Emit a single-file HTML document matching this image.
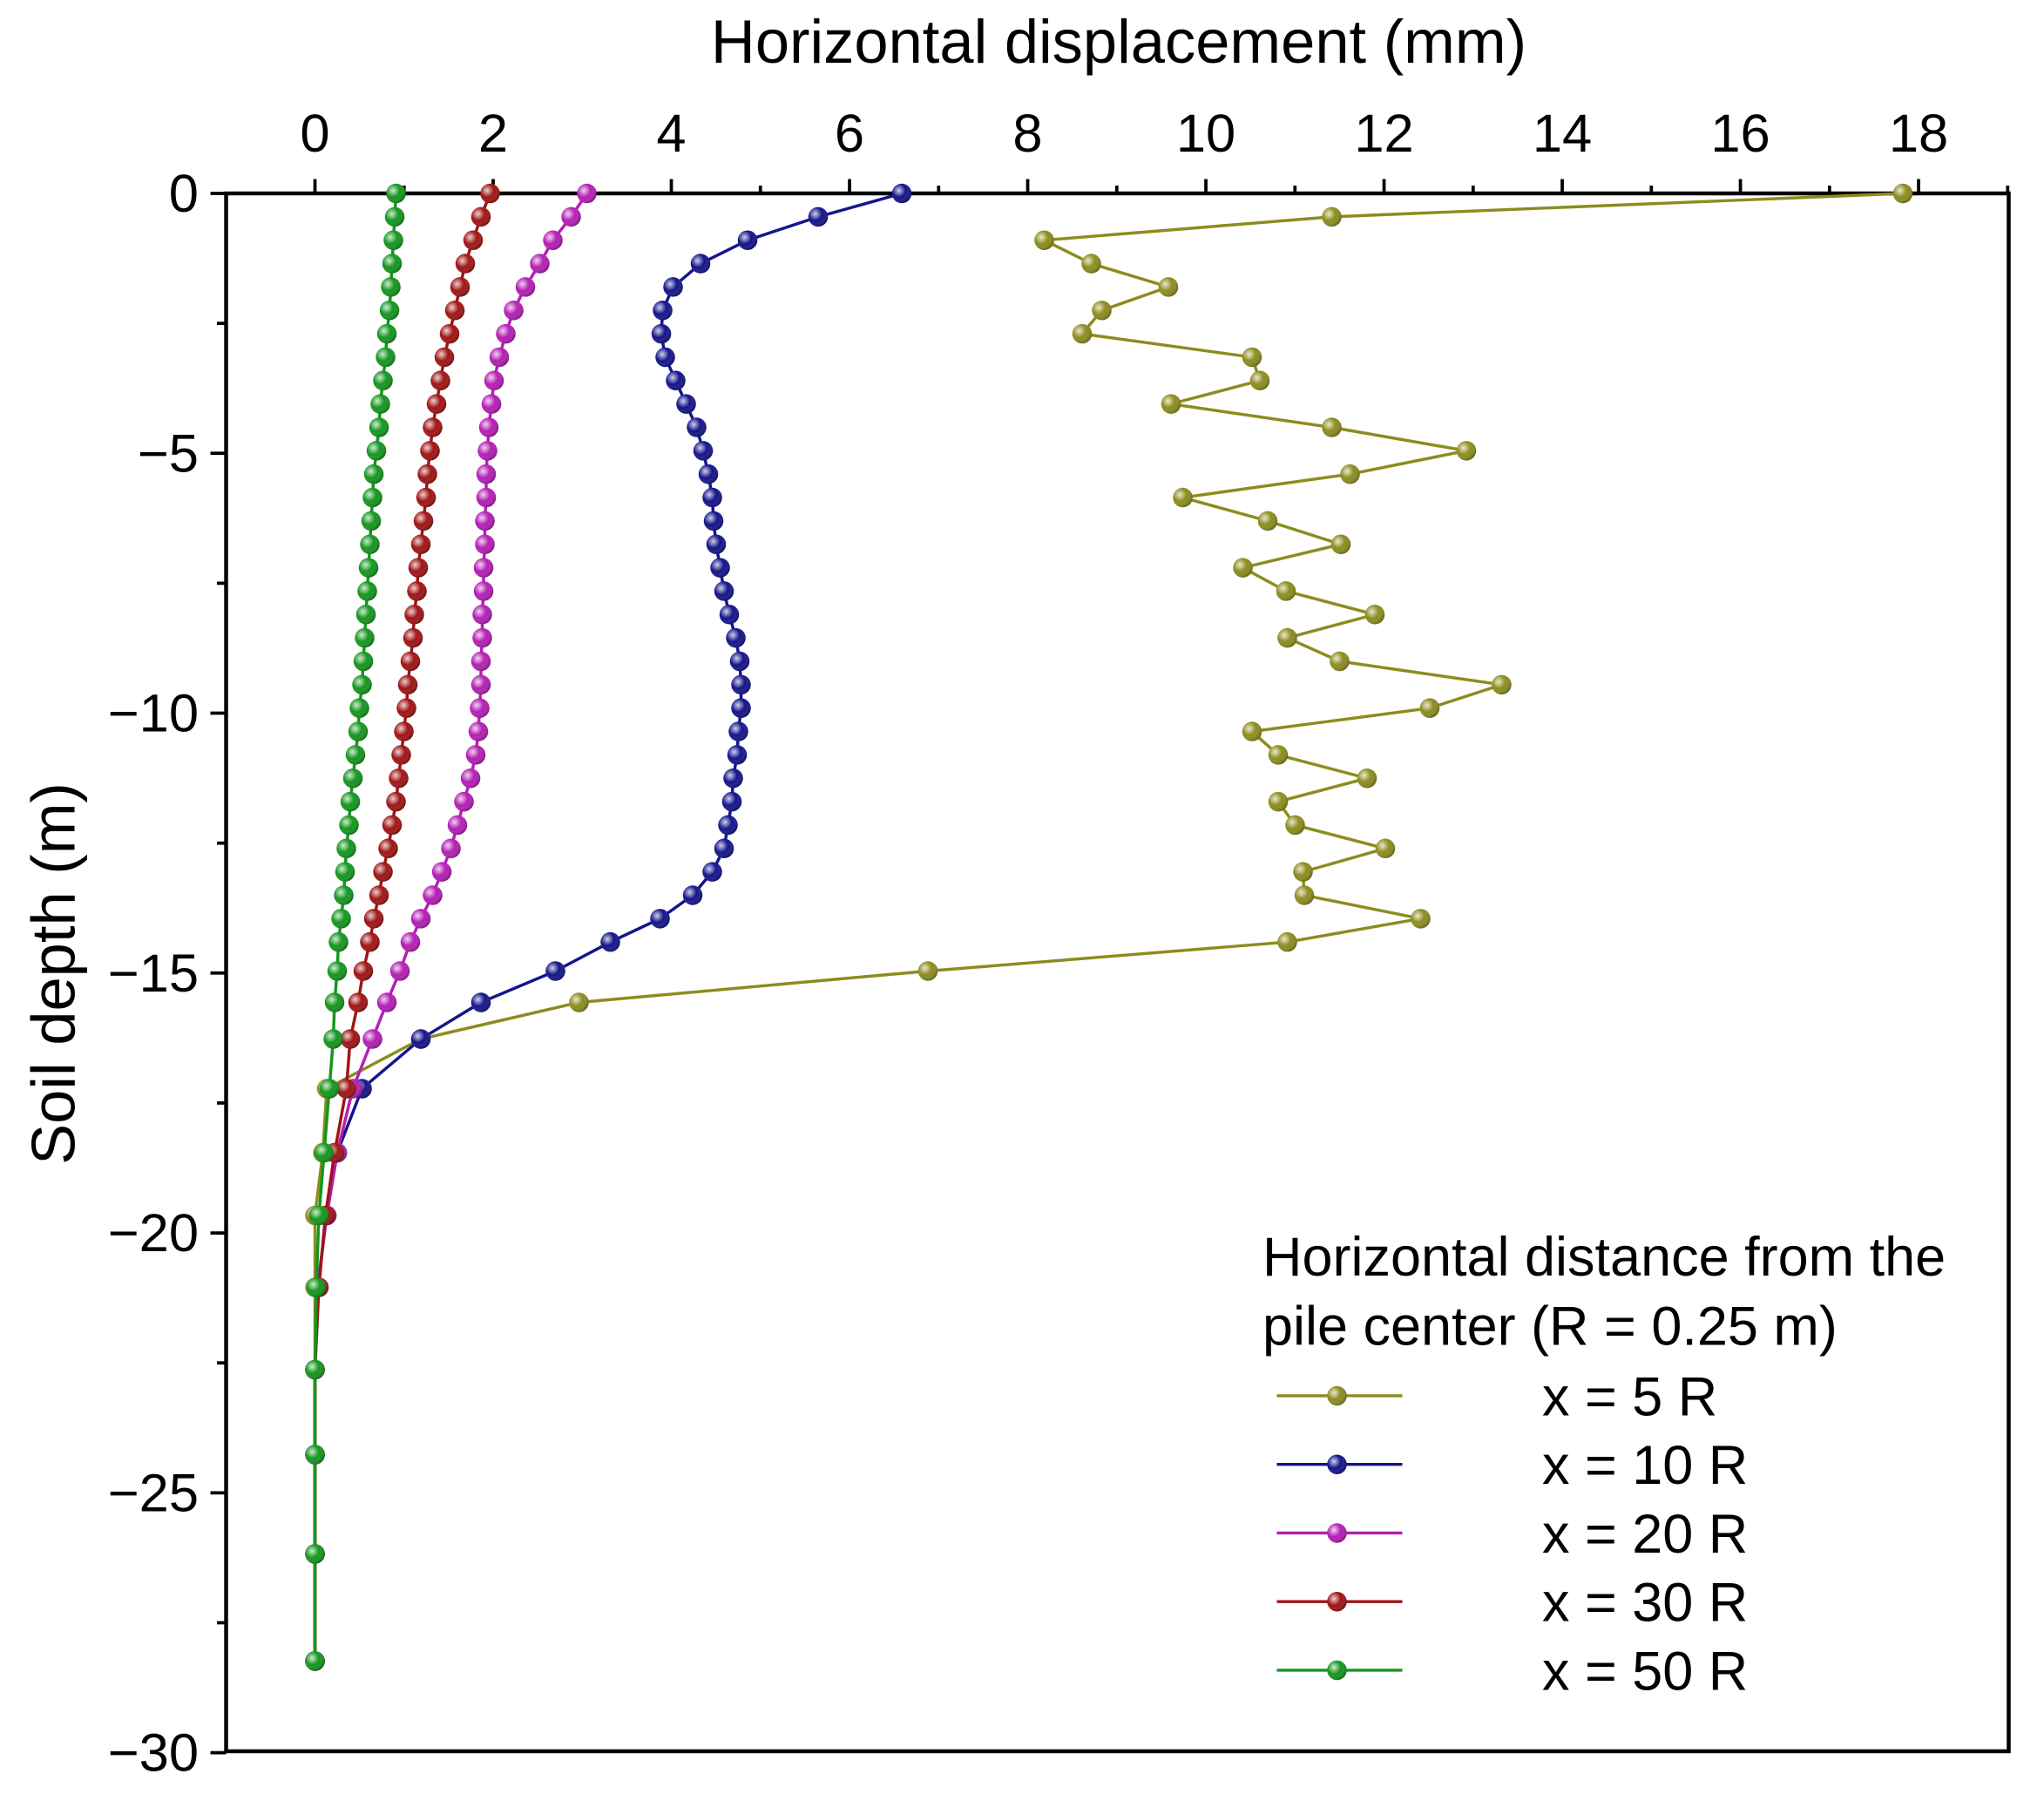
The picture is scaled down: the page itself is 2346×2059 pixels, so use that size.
<!DOCTYPE html>
<html><head><meta charset="utf-8"><style>
html,body{margin:0;padding:0;background:#fff;}
svg{display:block;}
text{font-family:"Liberation Sans",Arial,sans-serif;fill:#000;}
</style></head><body>
<svg id="s" width="2346" height="2059" viewBox="0 0 1564 1372.7" xmlns="http://www.w3.org/2000/svg">
<defs>
<radialGradient id="g" cx="0.35" cy="0.35" r="0.7"><stop offset="0" stop-color="#fff" stop-opacity="0.8"/><stop offset="0.5" stop-color="#fff" stop-opacity="0"/><stop offset="1" stop-color="#000" stop-opacity="0.3"/></radialGradient>
</defs>
<rect x="173" y="148" width="1364" height="1192" fill="none" stroke="#000" stroke-width="3"/>
<g id="ax"></g>
<text x="856" y="48" font-size="47" text-anchor="middle">Horizontal displacement (mm)</text>
<text transform="translate(57,745) rotate(-90)" font-size="47" text-anchor="middle">Soil depth (m)</text>
<g id="ser"></g>
<text x="966" y="976" font-size="42">Horizontal distance from the</text>
<text x="966" y="1029" font-size="42">pile center (R = 0.25 m)</text>
<g id="leg"></g>
</svg>
<script>
const NS="http://www.w3.org/2000/svg";
function el(t,a,p){const e=document.createElementNS(NS,t);for(const k in a)e.setAttribute(k,a[k]);p.appendChild(e);return e;}
const ax=document.getElementById('ax');
const X=v=>241+v*68.17, Y=v=>148-v*39.77;
for(let v=0;v<=18;v+=2){const x=X(v);el('line',{x1:x,x2:x,y1:137,y2:148,stroke:'#000','stroke-width':2.5},ax);
 const t=el('text',{x:x,y:116,'font-size':41,'text-anchor':'middle'},ax);t.textContent=v;}
for(let v=1;v<=19;v+=2){const x=X(v);el('line',{x1:x,x2:x,y1:142,y2:148,stroke:'#000','stroke-width':2.5},ax);}
for(let v=0;v>=-30;v-=5){const y=Y(v);el('line',{x1:161,x2:173,y1:y,y2:y,stroke:'#000','stroke-width':2.5},ax);
 const t=el('text',{x:152,y:y+14,'font-size':41,'text-anchor':'end'},ax);t.textContent=v==0?'0':'\u2212'+(-v);}
for(let v=-2.5;v>-30;v-=5){const y=Y(v);el('line',{x1:166,x2:173,y1:y,y2:y,stroke:'#000','stroke-width':2.5},ax);}
const ys=[];for(let i=0;i<33;i++)ys.push(148+17.9*i);ys.push(743,767,795,833,882,930,985,1048,1113,1189,1271);
const S=[
['#8c8c1e',[1456,1019,799,835,894,843,828,958,964,896,1019,1122,1033,905,970,1026,951,984,1052,985,1025,1149,1094,958,978,1046,978,991,1060,997,998,1087,985,710,443,322,250,247,241,241,241,241,241,241]],
['#14148c',[690,626,572,536,515,507,506,509,517,525,533,538,542,545,546,548,551,554,558,563,566,567,567,565,564,561,560,557,554,545,530,505,467,425,368,322,277,258,250,243,241,241,241,241]],
['#b41eb4',[449,437,423,413,402,393,387,382,378,376,374,373,372,372,371,371,370,370,369,369,368,368,367,366,364,360,355,350,345,338,331,322,314,306,296,285,270,258,250,243,241,241,241,241]],
['#a01414',[375,368,362,356,352,348,344,340,337,334,331,329,327,326,324,322,320,319,317,316,314,312,311,309,307,305,303,300,297,293,290,286,283,278,274,268,265,256,249,244,241,241,241,241]],
['#14961e',[303,302,301,300,299,298,296,295,293,291,290,288,286,285,284,283,282,281,280,279,278,277,275,274,272,270,268,267,265,264,263,261,259,258,256,255,252,248,244,242,241,241,241,241]]
];
const ser=document.getElementById('ser');
function mk(x,y,c,p){el('circle',{cx:x,cy:y,r:7.5,fill:c},p);el('circle',{cx:x,cy:y,r:7.5,fill:'url(#g)'},p);}
S.forEach(([c,xs])=>{const g=el('g',{},ser);
 el('polyline',{points:xs.map((x,i)=>x+','+ys[i]).join(' '),fill:'none',stroke:c,'stroke-width':2.3},g);
 xs.forEach((x,i)=>mk(x,ys[i],c,g));});
const leg=document.getElementById('leg');
const L=[['#8c8c1e','x = 5 R'],['#14148c','x = 10 R'],['#b41eb4','x = 20 R'],['#a01414','x = 30 R'],['#14961e','x = 50 R']];
L.forEach(([c,t],i)=>{const y=1068+i*52.5;el('line',{x1:977,x2:1073,y1:y,y2:y,stroke:c,'stroke-width':2.3},leg);mk(1023,y,c,leg);
 const e=el('text',{x:1180,y:y+15,'font-size':42},leg);e.textContent=t;});
</script>
</body></html>
